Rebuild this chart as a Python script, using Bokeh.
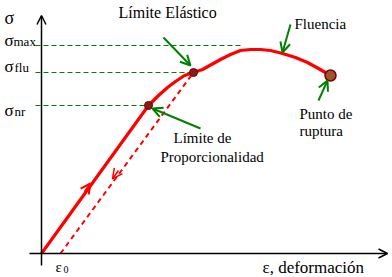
from bokeh.plotting import figure
from bokeh.models import Range1d, Arrow, OpenHead
from bokeh.core.properties import value
from bokeh.embed import file_html
from bokeh.resources import INLINE

# Stress-strain curve (schematic units: strain, stress)
curve_strain = [0, 107, 117, 126, 134, 143, 152, 161, 170, 179, 189, 199, 209, 219, 229, 241, 254, 266, 277, 289]
curve_stress = [0, 148, 158, 166, 172, 178, 181, 184, 189, 194, 199, 203, 204, 204, 203, 200, 196, 191, 185, 178]

# unloading line (parallel to elastic line), starting at eps0
unload_strain = [19, 152]
unload_stress = [0, 181]

# stress levels
levels_names = ["max", "flu", "nr"]
levels_stress = [208, 181, 148]
levels_end = [199, 152, 107]

# special points
pts_strain = [107, 152]
pts_stress = [148, 181]
rupture_strain = [289]
rupture_stress = [178]

F = "Liberation Serif"

p = figure(width=392, height=277, output_backend="svg", toolbar_location=None,
           x_range=Range1d(-41, 351), y_range=Range1d(-24, 253),
           min_border=0, outline_line_color=None)
p.axis.visible = False
p.grid.visible = False
p.background_fill_color = "white"

# axes with arrows
p.add_layout(Arrow(x_start=0, y_start=-12, x_end=0, y_end=238, line_color="black", line_width=1.5,
                   end=OpenHead(size=9, line_color="black", line_width=1.5)))
p.add_layout(Arrow(x_start=-12, y_start=0, x_end=346, y_end=0, line_color="black", line_width=1.5,
                   end=OpenHead(size=9, line_color="black", line_width=1.5)))

# green dashed levels
for s, e in zip(levels_stress, levels_end):
    p.line([-6, e], [s, s], line_color="#008000", line_width=1.2, line_dash="5 3")

# curves
p.line(curve_strain, curve_stress, line_color="#ff0000", line_width=3.2)
p.line(unload_strain, unload_stress, line_color="#ff0000", line_width=2, line_dash="5 4")

# red arrows on lines
p.add_layout(Arrow(x_start=43, y_start=61.7, x_end=49, y_end=70, line_color="#ff0000", line_width=2,
                   end=OpenHead(size=10, line_color="#ff0000", line_width=2)))
p.add_layout(Arrow(x_start=77, y_start=83, x_end=71, y_end=74.7, line_color="#ff0000", line_width=1.5,
                   end=OpenHead(size=10, line_color="#ff0000", line_width=1.5)))

# points
p.scatter(pts_strain, pts_stress, size=8, fill_color="#8b1a1a", line_color="#6b0000", line_width=1)
p.scatter(rupture_strain, rupture_stress, size=11, fill_color="#a0522d", line_color="#7b0000", line_width=1.5)

# green annotation arrows
green_arrows = [((122, 216), (149, 188)), ((159, 125), (111, 145)), ((249, 229), (241, 201)), ((277, 153), (286, 173))]
for (xs, ys), (xe, ye) in green_arrows:
    p.add_layout(Arrow(x_start=xs, y_start=ys, x_end=xe, y_end=ye, line_color="#008000", line_width=2,
                       end=OpenHead(size=10, line_color="#008000", line_width=2)))

def txt(x, y, s, size, align="left"):
    p.text([x], [y], text=[s], text_font=value(F), text_font_size=f"{size}px",
           text_baseline="middle", text_align=align, text_color="black")

txt(-37, 236, "σ", 18)
# sigma labels
sig_y = [213, 187, 143]
sub_x = [-28, -27, -27]
for n, y, sx in zip(levels_names, sig_y, sub_x):
    txt(-37, y, "σ", 17)
    txt(sx, y - 1, n, 13)

txt(77, 241, "Límite Elástico", 16)
txt(253, 230, "Fluencia", 15)
txt(258, 140, "Punto de", 15)
txt(258, 123, "ruptura", 15)
txt(132, 116, "Límite de", 15)
txt(119, 97, "Proporcionalidad", 15)
txt(14, -13, "ε", 15)
txt(22, -16, "0", 10)
txt(221, -14, "ε, deformación", 17)

open("out.html", "w").write(file_html(p, INLINE))
